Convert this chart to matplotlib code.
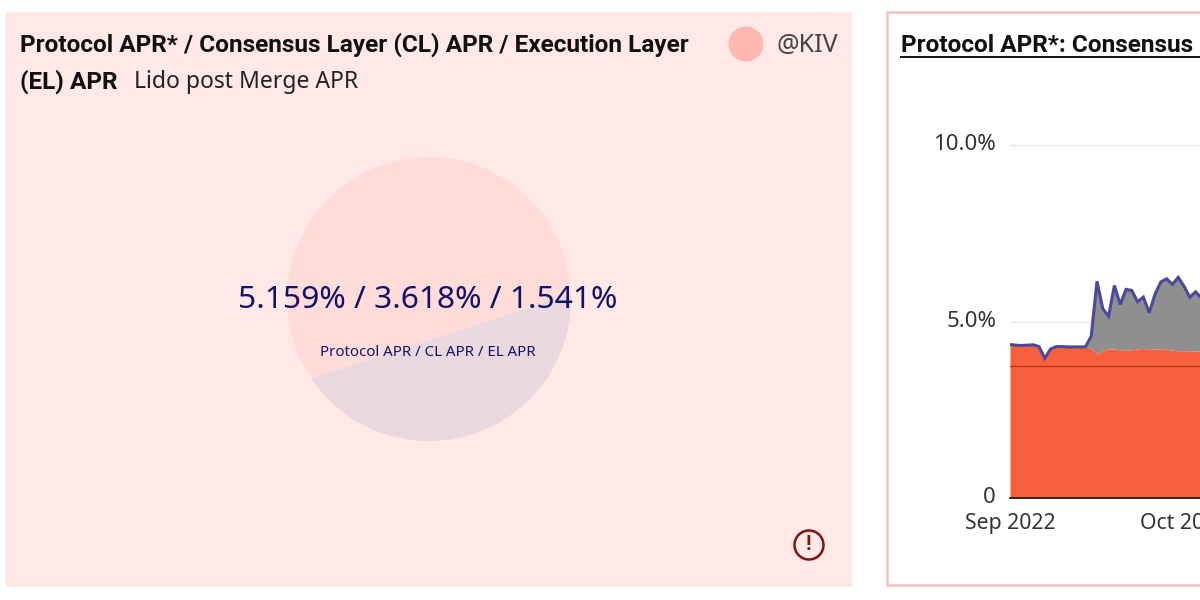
import numpy as np
import matplotlib
matplotlib.use("Agg")
import matplotlib.pyplot as plt
from matplotlib.patches import Circle, Polygon, Rectangle
from matplotlib.ticker import FuncFormatter
from matplotlib.transforms import ScaledTranslation

plt.rcParams['font.family'] = ['Noto Sans', 'DejaVu Sans']

# values
days = [0, 1, 2, 3, 4, 5, 6, 7, 8, 9, 10, 11, 12, 13, 14, 15, 16, 17, 18, 19, 20, 21, 22,
        23, 24, 25, 26, 27, 28, 29, 30, 31, 32, 33]
protocol_apr = [4.35, 4.33, 4.32, 4.33, 4.34, 4.29, 3.96, 4.22, 4.29, 4.29, 4.28, 4.28, 4.28, 4.28,
                4.58, 6.14, 5.36, 5.15, 6.02, 5.48, 5.91, 5.88, 5.56, 5.69, 5.25, 5.77, 6.12, 6.21,
                6.05, 6.25, 6.00, 5.69, 5.84, 5.67]
cl_apr = [4.35, 4.33, 4.32, 4.33, 4.34, 4.29, 3.96, 4.22, 4.29, 4.29, 4.28, 4.28, 4.28, 4.28,
          4.25, 4.07, 4.19, 4.22, 4.22, 4.20, 4.18, 4.20, 4.22, 4.24, 4.21, 4.22, 4.22, 4.21,
          4.19, 4.17, 4.17, 4.17, 4.16, 4.16]
ref_apr = 3.75
y_ticks = [0, 5, 10]
x_ticks = [0, 30]
x_labels = ['Sep 2022', 'Oct 2022']
big_number = '5.159% / 3.618% / 1.541%'
small_label = 'Protocol APR / CL APR / EL APR'

W, H = 1200, 600
BOLD = ['Roboto', 'DejaVu Sans']
fig = plt.figure(figsize=(12, 6), dpi=100, facecolor='white')

# page layer in pixel coords
bg = fig.add_axes([0, 0, 1, 1])
bg.set_xlim(0, W)
bg.set_ylim(H, 0)
bg.axis('off')
bg.add_patch(Rectangle((5, 12), 847, 575, fc='#ffe9e7', ec='none'))
bg.add_patch(Rectangle((887, 12), 400, 573, fc='white', ec='#f3c0ba', lw=1.8))

# title, left card
bg.text(20, 45, 'Protocol APR* / Consensus Layer (CL) APR / Execution Layer', fontsize=17.6,
        family=BOLD, fontweight='bold', color='#111111', va='center')
bg.text(20, 82, '(EL) APR', fontsize=17.6, family=BOLD, fontweight='bold', color='#111111', va='center')
bg.text(134, 82, 'Lido post Merge APR', fontsize=16.5, color='#222222', va='center')
bg.add_patch(Circle((746, 44), 17.5, fc='#ffb8b2', ec='none'))
bg.text(776, 45, '@KIV', fontsize=18, color='#444444', va='center')

# counter circle with the tilted split
circle = Circle((429, 299), 142, fc='#ffdcd8', ec='none')
bg.add_patch(circle)
lower = Polygon([(250, 399), (610, 281), (610, 460), (250, 460)], fc='#e9d9df', ec='none')
bg.add_patch(lower)
lower.set_clip_path(circle)
bg.text(428, 300, big_number, fontsize=22.9, color='#12126b', ha='center', va='center')
bg.text(428, 352.5, small_label, fontsize=10.8, color='#12126b', ha='center', va='center')

# warning icon
bg.add_patch(Circle((809, 545), 14.5, fc='none', ec='#7d1414', lw=1.8))
bg.text(809, 544.5, '!', fontsize=15, family=BOLD, fontweight='bold', color='#7d1414',
        ha='center', va='center')

# right card title
bg.text(901, 45, 'Protocol APR*: Consensus Layer (CL) APR', fontsize=17.6, family=BOLD, fontweight='bold',
        color='#111111', va='center', clip_on=True)
bg.plot([901, 1200], [56.5, 56.5], color='#111111', lw=1.4)

# area chart
px_day = 5.8
px_pct = 35.3
ax = fig.add_axes([1010 / W, 1 - 498 / H, 190 / W, 400 / H])
ax.patch.set_alpha(0)
ax.set_xlim(0, 190 / px_day)
ax.set_ylim(0, 400 / px_pct)
ax.yaxis.grid(True, color='#e9e9e9', lw=1)
ax.set_axisbelow(True)
ax.fill_between(days, cl_apr, protocol_apr, color='#8f8f8f', lw=0)
ax.fill_between(days, 0, cl_apr, color='#f6603c', lw=0)
ax.axhline(ref_apr, color='#c0391b', lw=1)
ax.plot(days, protocol_apr, color='#4a4a9c', lw=2.2, solid_joinstyle='miter')
for s in ['top', 'right', 'left']:
    ax.spines[s].set_visible(False)
ax.spines['bottom'].set_color('#111111')
ax.spines['bottom'].set_linewidth(1.2)
ax.set_yticks(y_ticks)
ax.yaxis.set_major_formatter(FuncFormatter(lambda v, p: '0' if v == 0 else f'{v:.1f}%'))
ax.set_xticks(x_ticks)
ax.set_xticklabels(x_labels)
ax.tick_params(axis='both', length=0, labelsize=15.3, labelcolor='#333333')
ax.tick_params(axis='x', pad=11)
ax.tick_params(axis='y', pad=10)
for lab in ax.get_yticklabels():
    lab.set_fontsize(16)
# y labels sit a little above their gridlines
up = ScaledTranslation(0, 2 / 72, fig.dpi_scale_trans)
for lab in ax.get_yticklabels():
    lab.set_transform(lab.get_transform() + up)

fig.savefig('out.png', dpi=100)
